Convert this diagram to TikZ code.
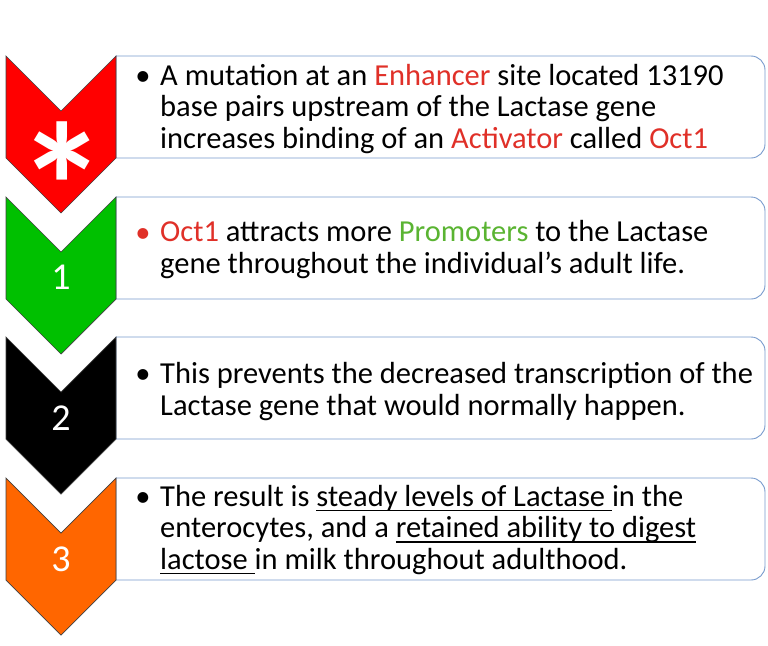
\documentclass[tikz,border=0pt]{standalone}
\usepackage{fontspec}
\setmainfont{Carlito}
\definecolor{chevred}{RGB}{255,0,0}
\definecolor{chevgreen}{RGB}{0,192,0}
\definecolor{chevorange}{RGB}{255,102,0}
\definecolor{keyred}{RGB}{224,48,40}
\definecolor{keygreen}{RGB}{90,180,50}
\definecolor{frameblue}{RGB}{120,155,205}
\usetikzlibrary{positioning}

\newcommand{\undl}[1]{\setbox0\hbox{#1}\rlap{\rule[-5pt]{\wd0}{1.3pt}}\box0}

\tikzset{
  chevron/.style={draw=black!75, line width=0.7pt},
  stepframe/.style={draw=frameblue, line width=0.9pt, fill=white},
  steptext/.style={font=\fontsize{30.5}{31.5}\selectfont, align=left, inner sep=0pt, anchor=base west},
  stepdot/.style={font=\fontsize{30.5}{31.5}\selectfont, inner sep=0pt, anchor=base},
  steplabel/.style={font=\fontsize{38}{38}\selectfont, text=white, inner sep=0pt}
}

\begin{document}
\begin{tikzpicture}[x=1pt,y=1pt]
  \useasboundingbox (0,0) rectangle (768,-645);

  % Frames and chevrons
  \foreach \t/\col in {56/chevred, 197/chevgreen, 337/black, 478/chevorange}{
    \draw[stepframe] (116,-\t) -- (751,-\t) arc[start angle=90, end angle=0, radius=14]
      -- (765,-\t-88) arc[start angle=0, end angle=-90, radius=14] -- (116,-\t-102) -- cycle;
    \draw[chevron, fill=\col] (6,-\t) -- (61,-\t-55) -- (116,-\t) -- (116,-\t-102)
      -- (61,-\t-157) -- (6,-\t-102) -- cycle;
  }

  % Chevron labels
  \node[steplabel, font=\bfseries\fontsize{180}{180}\selectfont] (star) at (62,-157)
    {\raisebox{-94pt}[26pt][27pt]{*}};
  \node[steplabel] (one) at (61,-277) {1};
  \node[steplabel] (two) at (61,-418) {2};
  \node[steplabel] (three) at (61,-559) {3};

  % Step 1
  \node[stepdot] (dot1) at (143,-85) {\textbullet};
  \node[steptext] (txt1) at (160,-148) {A mutation at an \textcolor{keyred}{Enhancer} site located 13190\\
    base pairs upstream of the Lactase gene\\
    increases binding of an \textcolor{keyred}{Activator} called \textcolor{keyred}{Oct1}};

  % Step 2
  \node[stepdot, text=keyred] (dot2) at (143,-242) {\textbullet};
  \node[steptext] (txt2) at (160,-273) {\textcolor{keyred}{Oct1} attracts more \textcolor{keygreen}{Promoters} to the Lactase\\
    gene throughout the individual’s adult life.};

  % Step 3
  \node[stepdot] (dot3) at (143,-383) {\textbullet};
  \node[steptext] (txt3) at (160,-415) {This prevents the decreased transcription of the\\
    Lactase gene that would normally happen.};

  % Step 4
  \node[stepdot] (dot4) at (143,-506) {\textbullet};
  \node[steptext] (txt4) at (160,-569) {The result is \undl{steady levels of Lactase }in the\\
    enterocytes, and a \undl{retained ability to digest}\\
    \undl{lactose }in milk throughout adulthood.};
\end{tikzpicture}
\end{document}
